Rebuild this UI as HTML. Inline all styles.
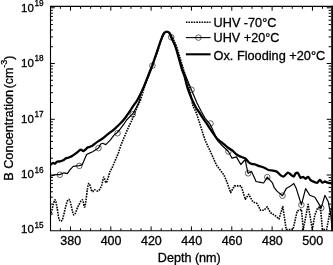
<!DOCTYPE html>
<html><head><meta charset="utf-8"><title>SIMS depth profile</title>
<style>html,body{margin:0;padding:0;background:#fff}svg{display:block}</style></head>
<body>
<svg width="333" height="265" viewBox="0 0 333 265" style="display:block">
<rect width="333" height="265" fill="#fff"/>
<clipPath id="c"><rect x="50.5" y="6.4" width="282.5" height="224.3"/></clipPath>
<path d="M60.38,230.7v-2.4M60.38,6.4v2.4M70.47,230.7v-4.3M70.47,6.4v4.3M80.55,230.7v-2.4M80.55,6.4v2.4M90.63,230.7v-2.4M90.63,6.4v2.4M100.71,230.7v-2.4M100.71,6.4v2.4M110.80,230.7v-4.3M110.80,6.4v4.3M120.88,230.7v-2.4M120.88,6.4v2.4M130.96,230.7v-2.4M130.96,6.4v2.4M141.04,230.7v-2.4M141.04,6.4v2.4M151.12,230.7v-4.3M151.12,6.4v4.3M161.21,230.7v-2.4M161.21,6.4v2.4M171.29,230.7v-2.4M171.29,6.4v2.4M181.37,230.7v-2.4M181.37,6.4v2.4M191.45,230.7v-4.3M191.45,6.4v4.3M201.54,230.7v-2.4M201.54,6.4v2.4M211.62,230.7v-2.4M211.62,6.4v2.4M221.70,230.7v-2.4M221.70,6.4v2.4M231.79,230.7v-4.3M231.79,6.4v4.3M241.87,230.7v-2.4M241.87,6.4v2.4M251.95,230.7v-2.4M251.95,6.4v2.4M262.03,230.7v-2.4M262.03,6.4v2.4M272.12,230.7v-4.3M272.12,6.4v4.3M282.20,230.7v-2.4M282.20,6.4v2.4M292.28,230.7v-2.4M292.28,6.4v2.4M302.36,230.7v-2.4M302.36,6.4v2.4M312.45,230.7v-4.3M312.45,6.4v4.3M322.53,230.7v-2.4M322.53,6.4v2.4M50.5,213.93h2.4M331.0,213.93h-2.4M50.5,204.12h2.4M331.0,204.12h-2.4M50.5,197.17h2.4M331.0,197.17h-2.4M50.5,191.77h2.4M331.0,191.77h-2.4M50.5,187.36h2.4M331.0,187.36h-2.4M50.5,183.63h2.4M331.0,183.63h-2.4M50.5,180.40h2.4M331.0,180.40h-2.4M50.5,177.55h2.4M331.0,177.55h-2.4M50.5,175.00h4.3M331.0,175.00h-4.3M50.5,158.23h2.4M331.0,158.23h-2.4M50.5,148.42h2.4M331.0,148.42h-2.4M50.5,141.47h2.4M331.0,141.47h-2.4M50.5,136.07h2.4M331.0,136.07h-2.4M50.5,131.66h2.4M331.0,131.66h-2.4M50.5,127.93h2.4M331.0,127.93h-2.4M50.5,124.70h2.4M331.0,124.70h-2.4M50.5,121.85h2.4M331.0,121.85h-2.4M50.5,119.30h4.3M331.0,119.30h-4.3M50.5,102.50h2.4M331.0,102.50h-2.4M50.5,92.68h2.4M331.0,92.68h-2.4M50.5,85.71h2.4M331.0,85.71h-2.4M50.5,80.30h2.4M331.0,80.30h-2.4M50.5,75.88h2.4M331.0,75.88h-2.4M50.5,72.14h2.4M331.0,72.14h-2.4M50.5,68.91h2.4M331.0,68.91h-2.4M50.5,66.05h2.4M331.0,66.05h-2.4M50.5,63.50h4.3M331.0,63.50h-4.3M50.5,46.73h2.4M331.0,46.73h-2.4M50.5,36.92h2.4M331.0,36.92h-2.4M50.5,29.97h2.4M331.0,29.97h-2.4M50.5,24.57h2.4M331.0,24.57h-2.4M50.5,20.16h2.4M331.0,20.16h-2.4M50.5,16.43h2.4M331.0,16.43h-2.4M50.5,13.20h2.4M331.0,13.20h-2.4M50.5,10.35h2.4M331.0,10.35h-2.4M50.5,7.8h4.3M331.0,7.8h-4.3" stroke="#000" stroke-width="1" fill="none"/>
<path d="M50.5,231.25V6.4H333M49.95,230.7H333" fill="none" stroke="#000" stroke-width="1.1"/>
<path d="M332.1,5.8500000000000005V231.25" fill="none" stroke="#000" stroke-width="1.8"/>
<g clip-path="url(#c)" fill="none" stroke="#000" stroke-linejoin="round" stroke-linecap="butt">
<path d="M50.5,215.4C51.2,212.9 53.6,202.0 54.6,200.3C55.6,198.6 55.9,202.2 56.6,205.3C57.4,208.5 58.2,216.8 59.1,219.2C60.0,221.6 61.2,221.9 62.2,220.0C63.2,218.1 64.5,211.0 65.4,207.8C66.3,204.6 66.7,202.0 67.5,200.8C68.3,199.6 69.0,198.5 70.0,200.8C71.0,203.2 72.5,213.9 73.8,214.9C75.1,215.9 76.6,209.1 78.0,206.6C79.4,204.1 81.1,199.8 82.3,199.8C83.5,199.8 83.9,209.2 84.9,206.6C85.9,203.9 87.3,186.4 88.5,183.9C89.7,181.4 91.0,190.5 92.0,191.5C93.0,192.5 93.5,189.8 94.5,189.7C95.5,189.6 97.0,191.6 98.2,190.9C99.4,190.2 100.6,188.1 101.5,185.8C102.4,183.5 103.0,177.6 103.8,177.1C104.6,176.6 105.2,183.6 106.3,182.6C107.3,181.6 109.1,173.8 110.1,171.3L112.1,167.8L118.4,153.0L120.9,145.2L124.0,137.7L127.8,128.8L132.0,120.0L133.5,116.0L136.6,108.4L140.6,100.0L144.6,86.4L150.9,70.0L158.2,49.3L162.6,36.6L164.8,32.8L167.1,31.7L169.8,32.8L172.4,37.2L176.7,46.8L180.5,59.4L183.7,70.0L188.3,84.0L192.8,105.4L196.5,113.4L200.8,126.8L205.1,140.3L211.0,152.9L216.4,165.0L224.0,175.1L226.8,181.7L230.7,192.6L234.4,185.9L241.1,185.9L245.3,199.3L248.7,194.3L252.9,201.9L257.1,203.5L260.5,210.3L263.8,210.3L267.2,206.9L270.6,212.8L274.8,215.3L279.0,219.0L282.8,206.6L286.2,229.5L293.0,229.5L297.2,211.0L301.4,209.3L303.3,229.5L308.1,204.3L312.3,229.5L314.8,215.2L317.4,208.5L320.4,206.8L322.4,229.5L326.6,229.5L330.0,211.9L331.7,206.8" stroke-width="1.6" stroke-dasharray="1.6 1.0"/>
<polyline points="50.5,176.2 55.6,174.6 59.8,174.6 64.0,172.8 67.3,173.7 69.9,169.9 73.2,166.4 79.1,165.6 82.2,164.8 84.7,158.9 86.6,154.5 88.4,153.6 92.6,151.8 98.5,148.1 100.7,144.0 102.6,143.3 105.8,144.6 110.2,140.2 114.0,135.1 117.3,132.5 120.3,128.8 124.0,123.8 126.6,120.0 132.8,113.7 136.2,107.6 139.5,100.8 140.3,95.0 146.4,80.1 152.2,65.7 157.8,49.3 162.2,36.6 164.4,32.8 166.8,31.7 169.2,32.8 171.2,37.2 175.5,46.8 179.2,59.4 183.0,70.0 186.5,78.0 191.3,89.4 197.0,102.9 201.2,111.3 205.1,118.4 210.3,124.5 215.2,135.2 217.8,141.1 223.6,147.0 228.4,151.5 232.0,158.2 236.4,156.9 240.8,164.5 245.2,159.5 246.5,166.4 248.1,173.3 251.5,171.4 254.1,177.1 256.0,181.5 260.4,182.4 263.6,183.0 267.3,177.1 272.4,182.8 274.2,187.7 277.0,191.1 282.5,195.7 286.2,188.6 290.5,186.1 293.8,183.5 296.3,188.6 301.4,204.9 305.6,188.6 309.8,195.3 314.9,197.3 321.2,207.9 324.9,195.3 328.3,201.8 330.8,215.2 332.2,229.5" stroke-width="1.2"/>
<circle cx="59.8" cy="174.8" r="2.8" stroke-width="0.6"/>
<circle cx="79.3" cy="165.9" r="2.8" stroke-width="0.6"/>
<circle cx="98.5" cy="148.1" r="2.8" stroke-width="0.6"/>
<circle cx="117.5" cy="133.2" r="2.8" stroke-width="0.6"/>
<circle cx="132.8" cy="114.3" r="2.8" stroke-width="0.6"/>
<circle cx="152.4" cy="65.7" r="2.8" stroke-width="0.6"/>
<circle cx="171.2" cy="37.2" r="2.8" stroke-width="0.6"/>
<circle cx="191.5" cy="89.8" r="2.8" stroke-width="0.6"/>
<circle cx="210.5" cy="123.5" r="2.8" stroke-width="0.6"/>
<circle cx="228.4" cy="151.5" r="2.8" stroke-width="0.6"/>
<circle cx="248.1" cy="173.3" r="2.8" stroke-width="0.6"/>
<circle cx="267.3" cy="177.1" r="2.8" stroke-width="0.6"/>
<circle cx="282.5" cy="195.7" r="2.8" stroke-width="0.6"/>
<circle cx="301.4" cy="204.9" r="2.8" stroke-width="0.6"/>
<circle cx="321.2" cy="207.9" r="2.8" stroke-width="0.6"/>
<path d="M50.5,164.8C50.9,164.5 52.6,162.9 53.2,162.8C53.8,162.7 54.5,163.8 55.0,163.7C55.5,163.6 56.2,162.1 56.9,161.8C57.6,161.5 59.3,161.5 60.1,161.3C60.9,161.1 62.4,160.7 63.2,160.3C64.0,159.9 65.0,158.8 65.8,158.4C66.6,158.0 68.1,157.8 68.9,157.5C69.7,157.2 71.3,156.6 72.1,156.1C72.9,155.6 74.4,154.5 75.2,153.9C76.0,153.3 77.6,151.9 78.4,151.3C79.2,150.7 80.2,149.6 80.9,149.6C81.6,149.6 82.7,151.2 83.4,151.1C84.1,151.0 85.3,149.7 85.9,149.2C86.5,148.7 87.0,147.8 87.8,147.4C88.6,147.0 91.0,146.5 92.0,146.0C93.0,145.5 94.1,144.3 95.0,143.6C95.9,142.9 97.8,141.6 98.8,140.9C99.8,140.2 101.6,139.2 102.6,138.5C103.6,137.8 105.4,136.1 106.4,135.3C107.4,134.5 109.0,133.3 110.2,132.4C111.4,131.5 113.9,129.5 115.2,128.3C116.5,127.1 119.0,124.8 120.3,123.5C121.6,122.2 123.5,120.1 124.7,118.5C125.9,116.9 128.1,113.7 129.4,111.8C130.7,109.9 133.4,105.8 134.5,104.2C135.6,102.6 136.2,102.2 137.5,99.8C138.8,97.4 142.3,90.4 144.0,86.4C145.7,82.4 149.3,72.8 150.4,70.0C151.5,67.2 151.2,68.5 152.2,65.7C153.2,62.9 156.5,53.2 157.8,49.3C159.1,45.4 161.3,38.8 162.2,36.6C163.1,34.4 163.8,33.5 164.4,32.8C165.0,32.1 166.2,31.7 166.8,31.7C167.4,31.7 168.6,32.1 169.2,32.8C169.8,33.5 170.4,35.3 171.2,37.2C172.0,39.1 174.4,43.8 175.5,46.8C176.6,49.8 178.3,56.3 179.2,59.4C180.1,62.5 181.4,67.8 182.1,70.0C182.8,72.2 183.6,73.5 184.4,76.0C185.2,78.5 186.8,85.5 187.8,88.6C188.8,91.7 190.9,96.9 192.0,99.5C193.1,102.1 195.5,106.6 196.2,108.0C196.9,109.4 196.7,108.7 197.6,110.0C198.5,111.3 201.3,115.6 202.6,117.6C203.9,119.6 206.4,123.1 207.7,125.1C209.0,127.1 211.5,130.9 212.7,132.7C213.9,134.5 215.7,137.3 216.9,138.6C218.1,139.9 220.7,141.6 222.0,142.7C223.3,143.8 225.7,145.9 227.0,146.9C228.3,147.9 230.8,149.3 232.0,150.2C233.2,151.1 234.8,153.0 235.8,153.8C236.8,154.6 238.6,155.8 239.6,156.3C240.6,156.8 242.5,157.3 243.3,157.6C244.1,157.9 245.2,158.2 245.9,158.8C246.6,159.4 247.7,161.3 248.4,162.0C249.1,162.7 250.6,163.6 251.5,163.9C252.4,164.2 254.4,164.2 255.3,164.5C256.2,164.8 257.6,165.5 258.5,165.8C259.4,166.1 261.4,166.7 262.3,167.0C263.2,167.3 264.6,167.9 265.4,168.3C266.2,168.7 267.6,169.7 268.6,170.0C269.6,170.3 271.9,170.4 273.0,170.6C274.1,170.8 276.0,171.2 277.0,171.8C278.0,172.4 279.5,174.5 280.4,175.1C281.3,175.7 282.7,176.8 283.7,176.5C284.7,176.2 286.9,172.8 287.9,172.6C288.9,172.4 290.5,174.6 291.3,175.1C292.1,175.6 293.2,176.7 293.8,176.5C294.4,176.3 294.9,174.0 295.5,173.5C296.1,173.0 297.3,172.5 298.0,173.1C298.7,173.7 299.8,177.2 300.5,177.7C301.2,178.2 302.4,176.7 303.1,176.8C303.8,176.9 304.9,178.8 305.6,178.8C306.3,178.8 307.4,176.6 308.1,176.8C308.8,177.0 309.8,179.5 310.6,180.2C311.4,180.9 313.1,181.6 314.0,181.9C314.9,182.2 316.6,183.0 317.4,182.7C318.2,182.4 319.2,179.8 319.9,179.8C320.6,179.8 321.7,182.5 322.4,182.7C323.1,182.9 324.2,181.5 324.9,181.5C325.6,181.5 326.5,182.4 327.5,182.7C328.5,183.0 331.8,183.4 332.5,183.5" stroke-width="2.3"/>
</g>
<g fill="none" stroke="#000">
<path d="M185.9,22.3H210.6" stroke-width="1.6" stroke-dasharray="1.6 1.0"/>
<path d="M185.9,37.6H210.6" stroke-width="1.1"/>
<circle cx="198.4" cy="37.6" r="2.8" stroke-width="0.6"/>
<path d="M185.9,54.3H210.6" stroke-width="2.1"/>
</g>
<g font-family="Liberation Sans, Arial, Helvetica, sans-serif" fill="#000" stroke="#000" stroke-width="0.3" font-size="12.5">
<text x="213.6" y="26.9" textLength="62.8" lengthAdjust="spacingAndGlyphs">UHV -70°C</text>
<text x="213.6" y="41.7" textLength="65.8" lengthAdjust="spacingAndGlyphs">UHV +20°C</text>
<text x="213.6" y="60.0" textLength="111.6" lengthAdjust="spacingAndGlyphs">Ox. Flooding +20°C</text>
</g>
<g font-family="Liberation Sans, Arial, Helvetica, sans-serif" fill="#000" stroke="#000" stroke-width="0.3" font-size="12.5" text-anchor="middle">
<text x="70.8" y="245.3">380</text>
<text x="111.1" y="245.3">400</text>
<text x="151.4" y="245.3">420</text>
<text x="191.8" y="245.3">440</text>
<text x="232.1" y="245.3">460</text>
<text x="272.4" y="245.3">480</text>
<text x="312.7" y="245.3">500</text>
<text x="189.3" y="261.8" textLength="63" lengthAdjust="spacingAndGlyphs">Depth (nm)</text>
</g>
<g font-family="Liberation Sans, Arial, Helvetica, sans-serif" fill="#000" stroke="#000" stroke-width="0.3" font-size="11.5">
<text x="21.0" y="11.7">10<tspan dx="0.7" dy="-5.7" font-size="8.2">19</tspan></text>
<text x="21.0" y="66.9">10<tspan dx="0.7" dy="-5.7" font-size="8.2">18</tspan></text>
<text x="21.0" y="122.7">10<tspan dx="0.7" dy="-5.7" font-size="8.2">17</tspan></text>
<text x="21.0" y="178.2">10<tspan dx="0.7" dy="-5.7" font-size="8.2">16</tspan></text>
<text x="21.0" y="233.3">10<tspan dx="0.7" dy="-5.7" font-size="8.2">15</tspan></text>
</g>
<text font-family="Liberation Sans, Arial, Helvetica, sans-serif" fill="#000" stroke="#000" stroke-width="0.3" font-size="12.5" transform="translate(12.7,180.8) rotate(-90)" textLength="90.9" lengthAdjust="spacingAndGlyphs">B Concentration</text>
<text font-family="Liberation Sans, Arial, Helvetica, sans-serif" fill="#000" stroke="#000" stroke-width="0.3" font-size="12.4" transform="translate(12.7,88.3) rotate(-90)">(cm<tspan dy="-5.6" font-size="9">-3</tspan><tspan dy="5.6">)</tspan></text>
</svg>
</body></html>
